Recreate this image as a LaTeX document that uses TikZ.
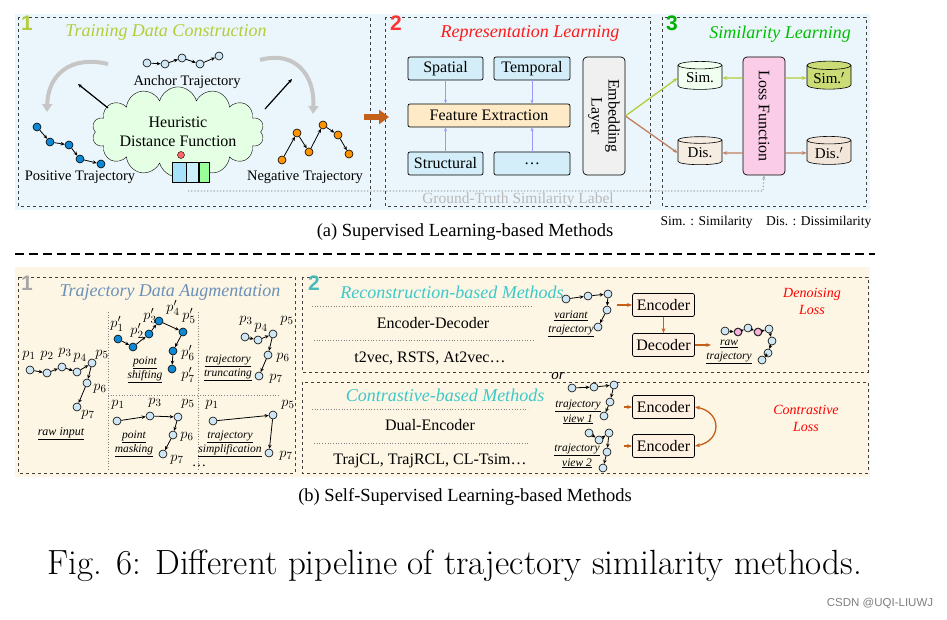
\documentclass[tikz,border=0pt]{standalone}
\usepackage{fontspec}
\newfontfamily\tnr{Liberation Serif}
\newfontfamily\tsans{Liberation Sans}
\usetikzlibrary{shapes.geometric,shapes.symbols,arrows.meta}
\definecolor{bgblue}{HTML}{EAF6FB}
\definecolor{bgcream}{HTML}{FDF6E4}
\definecolor{boxblue}{HTML}{D3EEF8}
\definecolor{ptblue}{HTML}{CFE6F5}
\definecolor{tgreen}{HTML}{B5CC3A}
\definecolor{orng}{HTML}{C5601A}
\definecolor{brwn}{HTML}{C08060}
\definecolor{teal2}{HTML}{3CC8C8}
\definecolor{augblue}{HTML}{6A90B8}
\newcommand\mytraj[3]{%
  \foreach \p [count=\i] in {#3} {\node[dot,fill=#2] (#1\i) at \p {};}%
  \foreach \p [count=\i, remember=\i as \j (initially 0)] in {#3} {\ifnum\j>0 \draw[tarr] (#1\j) -- (#1\i);\fi}}
\tikzset{
  every node/.style={font=\tnr\fontsize{14.5}{16}\selectfont},
  dot/.style={circle,draw=black,line width=0.6pt,inner sep=0pt,minimum size=8pt},
  tarr/.style={-{Stealth[length=4pt,width=3.5pt]},line width=0.8pt},
  dbox/.style={draw=black!75,dashed,line width=0.8pt},
  rbox/.style={draw=black,rounded corners=2pt,line width=0.7pt,fill=boxblue,align=center},
  cyl/.style={cylinder,shape border rotate=90,aspect=0.25,draw=black,minimum width=44pt,minimum height=28pt,inner sep=1pt,line width=0.6pt,font=\tnr\fontsize{15}{16}\selectfont},
  dotsep/.style={draw=gray,dotted,line width=0.7pt},
  lab/.style={font=\tnr\itshape\fontsize{12}{14}\selectfont,align=center,inner sep=1pt},
  slab/.style={font=\tnr\itshape\fontsize{11.5}{14.5}\selectfont,align=center,inner sep=0pt},
  plab/.style={font=\fontsize{15}{15}\selectfont,inner sep=0pt},
  enc/.style={draw=black,rounded corners=2pt,fill=bgcream!60!orange!25,minimum width=62pt,minimum height=23pt,line width=0.7pt,font=\tnr\fontsize{16}{16}\selectfont},
  oarr/.style={-{Stealth[length=5pt]},orng,line width=1.3pt},
  ttl/.style={font=\tnr\itshape\fontsize{18}{18}\selectfont},
  num/.style={font=\tsans\bfseries\fontsize{21}{21}\selectfont},
  body/.style={font=\tnr\fontsize{16}{16}\selectfont},
}
\begin{document}
\begin{tikzpicture}[x=1pt,y=-1pt]
\useasboundingbox (0,0) rectangle (947,620);
\fill[white] (0,0) rectangle (947,620);
% ===== top
\fill[bgblue] (15,14) rectangle (870,210);
\draw[dbox] (18,17) rectangle (370,206);
\draw[dbox] (385,17) rectangle (650,206);
\draw[dbox] (662,17) rectangle (866,206);
\node[num,text=tgreen] (n1) at (27,23) {1};
\node[num,text=red!80] (n2) at (396,23) {2};
\node[num,text=green!70!black] (n3) at (672,23) {3};
\node[ttl,text=tgreen] (t1) at (166,32) {Training Data Construction};
\node[ttl,text=red!90] (t2) at (530,33) {Representation Learning};
\node[ttl,text=green!75!black] (t3) at (780,34) {Similarity Learning};
% anchor
\mytraj{a}{ptblue}{(147,63),(165,64),(182,58),(200,64),(219,56)}
\node (al) at (187,82) {Anchor Trajectory};
\node[cloud,cloud puffs=14,aspect=2.6,draw=black,fill=green!10,minimum width=166pt,minimum height=62pt,align=center,inner sep=0pt,font=\tnr\fontsize{16}{19}\selectfont] (cl) at (178,132) {Heuristic\\Distance Function};
% map icon
\node[draw=black,fill=cyan!35,minimum width=14pt,minimum height=20pt,inner sep=0pt] (m1) at (179,172) {};
\node[draw=black,fill=cyan!20,minimum width=12pt,minimum height=20pt,inner sep=0pt] (m2) at (192,172) {};
\node[draw=black,fill=green!40,minimum width=10pt,minimum height=20pt,inner sep=0pt] (m3) at (204,172) {};
\node[circle,draw=black,fill=red!60,minimum size=7pt,inner sep=0pt] (pin) at (181,155) {};
% positive / negative
\mytraj{p}{cyan!70!blue}{(37,127),(50,142),(69,145),(80,159),(101,164)}
\node (pl) at (80,177) {Positive Trajectory};
\mytraj{n}{orange!85!yellow}{(282,160),(297,133),(309,152),(323,125),(338,135),(349,154)}
\node (nl) at (305,177) {Negative Trajectory};
\coordinate (c1) at (108,108); \coordinate (c2) at (78,84);
\coordinate (c3) at (265,109); \coordinate (c4) at (292,79);
\draw[tarr,line width=1.2pt] (c1) -- (c2);
\draw[tarr,line width=1.2pt] (c3) -- (c4);
\coordinate (g1) at (108,64); \coordinate (g2) at (47,112);
\coordinate (g3) at (260,60); \coordinate (g4) at (313,114);
\draw[-{Triangle[length=8pt,width=10pt]},gray!45,line width=4pt] (g1) .. controls (70,55) and (48,75) .. (g2);
\draw[-{Triangle[length=8pt,width=10pt]},gray!45,line width=4pt] (g3) .. controls (295,50) and (315,75) .. (g4);
% box 2
\node[rbox,body,minimum width=75pt,minimum height=23pt] (sp) at (445.5,68.5) {Spatial};
\node[rbox,body,minimum width=76pt,minimum height=23pt] (tp) at (532,68.5) {Temporal};
\node[rbox,body,fill=yellow!25!orange!20,minimum width=162pt,minimum height=23pt] (fe) at (489,115.5) {Feature Extraction};
\node[rbox,body,minimum width=75pt,minimum height=23pt] (st) at (445.5,163.5) {Structural};
\node[rbox,body,minimum width=76pt,minimum height=23pt] (dd) at (532,163.5) {\dots};
\draw[-{Stealth[length=4pt]},blue!40,line width=1pt] (sp) -- (sp|-fe.north);
\draw[-{Stealth[length=4pt]},blue!40,line width=1pt] (tp) -- (tp|-fe.north);
\draw[-{Stealth[length=4pt]},blue!40,line width=1pt] (st) -- (st|-fe.south);
\draw[-{Stealth[length=4pt]},blue!40,line width=1pt] (dd) -- (dd|-fe.south);
\node[rbox,fill=gray!12,rounded corners=4pt,minimum width=42pt,minimum height=118pt] (em) at (604,116) {};
\node[rotate=-90,align=center,font=\tnr\fontsize{16}{17}\selectfont] (emt) at (em) {Embedding\\Layer};
\draw[-{Triangle[length=10pt,width=14pt]},orng,line width=6pt] (364,117) -- (389,117);
\coordinate (oa) at (364,117);
% box 3
\node[cyl,fill=green!6] (sim) at (700,78) {Sim.};
\node[cyl,fill=brown!15] (dis) at (700,153) {Dis.};
\node[cyl,fill=tgreen!70] (sim2) at (829,78) {Sim.$'$};
\node[cyl,fill=brown!20] (dis2) at (829,153) {Dis.$'$};
\node[rbox,fill=magenta!20,rounded corners=4pt,minimum width=42pt,minimum height=118pt] (lf) at (764,116) {};
\node[rotate=-90,font=\tnr\fontsize{16}{17}\selectfont] (lft) at (lf) {Loss Function};
\draw[-{Stealth[length=5pt]},tgreen,line width=1.3pt] (em.east) -- (sim.west);
\draw[-{Stealth[length=5pt]},brwn,line width=1.3pt] (em.east) -- (dis.west);
\draw[-{Stealth[length=5pt]},tgreen,line width=1.3pt] (lf.west|-sim) -- (sim.east);
\draw[-{Stealth[length=5pt]},tgreen,line width=1.3pt] (lf.east|-sim) -- (sim2.west);
\draw[-{Stealth[length=5pt]},brwn,line width=1.3pt] (lf.east|-dis) -- (dis2.west);
\draw[-{Stealth[length=5pt]},brwn,line width=1.3pt] (lf.west|-dis) -- (dis.east);
% ground truth
\coordinate (gt) at (188,191);
\draw[dotted,gray!70,line width=1.2pt,-{Stealth[length=4pt]}] (gt) -- (763,191) -- (lf.south);
\node[text=gray!55,font=\tnr\fontsize{15.5}{16}\selectfont] (gtl) at (518,200) {Ground-Truth Similarity Label};
\node[font=\tnr\fontsize{13.5}{14}\selectfont] (leg) at (766,222) {Sim. : Similarity\quad Dis. : Dissimilarity};
\node[font=\tnr\fontsize{18.5}{19}\selectfont] (ca) at (465,232) {(a) Supervised Learning-based Methods};
\coordinate (h1) at (15,254); \coordinate (h2) at (875,254);
\draw[dash pattern=on 9pt off 5pt,line width=2.5pt] (h1) -- (h2);
% ===== bottom
\fill[bgcream] (15,267) rectangle (870,477);
\draw[dbox] (18,277) rectangle (295,473);
\draw[dbox] (302,277) rectangle (868,372);
\draw[dbox] (302,382) rectangle (868,473);
\node[num,text=gray!70] (b1) at (27,283) {1};
\node[num,text=teal2!80!gray] (b2) at (314,283) {2};
\node[ttl,text=augblue] (bt1) at (170,292) {Trajectory Data Augmentation};
\draw[dotsep] (108,312) -- (108,470);
\draw[dotsep] (198,312) -- (198,470);
\draw[dotsep] (108,395) -- (280,395);
% raw input
\mytraj{r}{ptblue}{(30,370),(47,373),(62,367),(77,372),(92,363),(87,383),(77,407)}
\node[plab] (rl1) at (29,356) {$p_1$}; \node[plab] (rl2) at (47,356) {$p_2$};
\node[plab] (rl3) at (65,353) {$p_3$}; \node[plab] (rl4) at (80,358) {$p_4$};
\node[plab] (rl5) at (102,355) {$p_5$}; \node[plab] (rl6) at (100,389) {$p_6$};
\node[plab] (rl7) at (88,415) {$p_7$};
\node[lab] (rlab) at (61,434) {\underline{raw input}};
% point shifting
\mytraj{s}{cyan!70!blue}{(118,339),(133,347),(149,334),(159,321),(183,332),(173,351),(172,369)}
\node[plab] (sl1) at (117,324) {$p'_1$}; \node[plab] (sl2) at (137,331) {$p'_2$};
\node[plab] (sl3) at (150,316) {$p'_3$}; \node[plab] (sl4) at (173,308) {$p'_4$};
\node[plab] (sl5) at (189,316) {$p'_5$}; \node[plab] (sl6) at (188,353) {$p'_6$};
\node[plab] (sl7) at (188,375) {$p'_7$};
\node[slab] (slab) at (145,370) {\underline{point}\\\underline{shifting}};
% truncating
\mytraj{u}{ptblue}{(245,337),(258,340),(273,334),(268,355),(259,376)}
\node[plab] (ul3) at (246,321) {$p_3$}; \node[plab] (ul4) at (261,328) {$p_4$};
\node[plab] (ul5) at (287,321) {$p_5$}; \node[plab] (ul6) at (283,358) {$p_6$};
\node[plab] (ul7) at (276,379) {$p_7$};
\node[slab] (ulab) at (228,368) {\underline{trajectory}\\\underline{truncating}};
% masking
\mytraj{k}{ptblue}{(117,421),(150,416),(178,417),(173,435),(163,454)}
\node[plab] (kl1) at (118,405) {$p_1$}; \node[plab] (kl3) at (155,403) {$p_3$};
\node[plab] (kl5) at (188,404) {$p_5$}; \node[plab] (kl6) at (187,437) {$p_6$};
\node[plab] (kl7) at (177,460) {$p_7$};
\node[slab] (klab) at (134,444) {\underline{point}\\\underline{masking}};
% simplification
\mytraj{q}{ptblue}{(213,421),(273,415),(269,453)}
\node[plab] (ql1) at (212,405) {$p_1$}; \node[plab] (ql5) at (288,405) {$p_5$};
\node[plab] (ql7) at (286,456) {$p_7$};
\node[slab] (qlab) at (230,444) {\underline{trajectory}\\\underline{simplification}};
\node (qd) at (199,466) {\dots};
% reconstruction
\node[ttl,text=teal2] (rt) at (452,292) {Reconstruction-based Methods};
\draw[dotsep] (312,306) -- (532,306);
\node[body] (ed) at (433,323) {Encoder-Decoder};
\draw[dotsep] (314,340) -- (534,340);
\node[body] (t2v) at (430,358) {t2vec, RSTS, At2vec\dots};
\mytraj{v}{ptblue}{(566,299),(588,296),(608,294),(607,310),(598,327)}
\node[slab] (vlab) at (571,324) {\underline{variant}\\\underline{trajectory}};
\node[enc] (e1) at (663.5,305) {Encoder};
\node[enc] (d1) at (663.5,345) {Decoder};
\coordinate (va) at (617,305);
\draw[oarr] (va) -- (e1.west);
\draw[oarr] (e1) -- (d1);
\coordinate (da) at (711,345);
\draw[oarr] (d1.east) -- (da);
\mytraj{w}{ptblue}{(725,331),(738,332),(748,328),(758,332),(769,329),(772,341),(768,353),(762,360)}
\path[fill=magenta!30,draw=black] (w2) circle (3.5pt) (w4) circle (3.5pt);
\node[slab] (wlab) at (729,352) {\underline{raw}\\\underline{trajectory}};
\node[lab,text=red,font=\tnr\itshape\fontsize{14}{17}\selectfont] (dl) at (812,301) {Denoising\\Loss};
\node[font=\tnr\itshape\fontsize{15}{15}\selectfont] (or) at (558,376) {or};
% contrastive
\node[ttl,text=teal2] (ct) at (445,395) {Contrastive-based Methods};
\draw[dotsep] (312,409) -- (528,409);
\node[body] (de) at (430,425) {Dual-Encoder};
\draw[dotsep] (314,443) -- (530,443);
\node[body] (tcl) at (430,461) {TrajCL, TrajRCL, CL-Tsim\dots};
\mytraj{x}{ptblue}{(572,388),(594,387),(614,385),(610,402),(604,416)}
\node[slab] (xlab) at (578,412) {\underline{trajectory}\\\underline{view 1}};
\mytraj{y}{ptblue}{(589,433),(599,440),(609,433),(607,452),(603,468)}
\node[slab] (ylab) at (577,456) {\underline{trajectory}\\\underline{view 2}};
\node[enc] (e2) at (663.5,407) {Encoder};
\node[enc] (e3) at (663.5,446) {Encoder};
\coordinate (xa) at (624,407); \coordinate (ya) at (624,446);
\draw[oarr] (xa) -- (e2.west);
\draw[oarr] (ya) -- (e3.west);
\draw[{Stealth[length=5pt]}-{Stealth[length=5pt]},orng,line width=1.3pt] (e2.east) .. controls (722,412) and (722,441) .. (e3.east);
\node[lab,text=red,font=\tnr\itshape\fontsize{14}{17}\selectfont] (cll) at (806,418) {Contrastive\\Loss};
\node[font=\tnr\fontsize{18.5}{19}\selectfont] (cb) at (465,497) {(b) Self-Supervised Learning-based Methods};
\node[font=\fontsize{35}{38}\selectfont] (cap) at (455,566) {Fig. 6: Different pipeline of trajectory similarity methods.};
\node[font=\tsans\fontsize{11.5}{12}\selectfont,text=gray] (wm) at (880,603) {CSDN @UQI-LIUWJ};
\end{tikzpicture}
\end{document}
